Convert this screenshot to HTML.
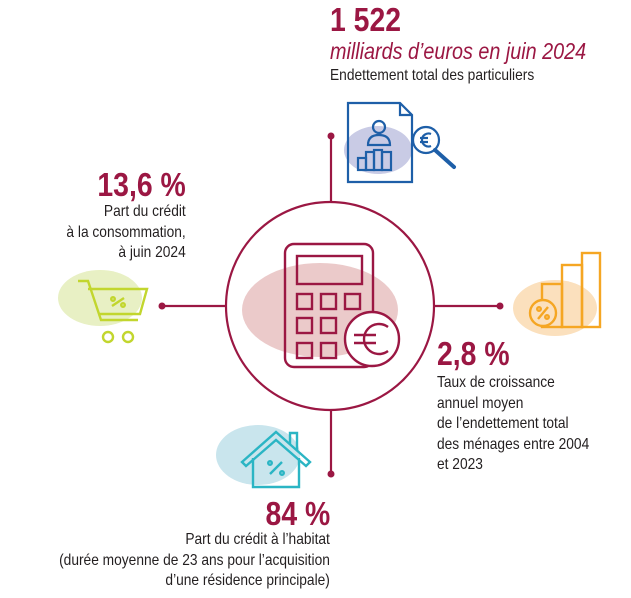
<!DOCTYPE html>
<html><head><meta charset="utf-8"><style>
body{margin:0;width:631px;height:598px;background:#fff;overflow:hidden;position:relative;font-family:"Liberation Sans",sans-serif}
.t{position:absolute;white-space:nowrap;color:#231f20;font-size:16px;line-height:20.5px;transform:scaleX(0.86);transform-origin:0 0}
.r{transform-origin:100% 0}
.big{font-weight:bold;color:#9b1743;font-size:33px;line-height:34px}
</style></head><body>
<svg width="631" height="598" style="position:absolute;left:0;top:0">
<g stroke="#9b1743" stroke-width="2.2" fill="none">
<circle cx="330" cy="306" r="104"/>
<line x1="331" y1="136" x2="331" y2="202"/>
<line x1="162" y1="306" x2="226" y2="306"/>
<line x1="434" y1="306" x2="500" y2="306"/>
<line x1="331" y1="410" x2="331" y2="474"/>
</g>
<g fill="#9b1743"><circle cx="331" cy="136" r="3.5"/><circle cx="162" cy="306" r="3.5"/><circle cx="500" cy="306" r="3.5"/><circle cx="331" cy="474" r="3.5"/></g>
<ellipse cx="320" cy="310" rx="78" ry="47" fill="#ebcaca"/>
<g stroke="#9b1743" stroke-width="2.4" fill="none">
<rect x="285" y="244" width="88" height="123" rx="9"/>
<rect x="297" y="256" width="65" height="28"/>
<rect x="297" y="294" width="15" height="15"/><rect x="321" y="294" width="15" height="15"/><rect x="345" y="294" width="15" height="15"/>
<rect x="297" y="318" width="15" height="15"/><rect x="321" y="318" width="15" height="15"/>
<rect x="297" y="343" width="15" height="15"/><rect x="321" y="343" width="15" height="15"/>
</g>
<circle cx="372" cy="339" r="27" fill="#fff" stroke="#9b1743" stroke-width="2.4"/>
<g stroke="#9b1743" stroke-width="2.4" fill="none"><path d="M388 327 A15 15 0 1 0 388 351"/><line x1="354" y1="335" x2="376" y2="335"/><line x1="354" y1="343" x2="376" y2="343"/></g>
<ellipse cx="378" cy="150" rx="34" ry="24" fill="#c9cbe5"/>
<g stroke="#1e5fa8" stroke-width="2.2" fill="none">
<path d="M348 103 H400 L412 115 V182 H348 Z M400 103 V115 H412"/>
<circle cx="379" cy="127" r="6"/><path d="M368 145 Q368 135 379 135 Q390 135 390 145 Z"/>
<rect x="358" y="158" width="8" height="12"/><rect x="366" y="152" width="8" height="18"/><rect x="374" y="150" width="8" height="20"/><rect x="382" y="152" width="9" height="18"/>
<circle cx="426" cy="140" r="13" fill="#fff"/><line x1="435" y1="150" x2="454" y2="167" stroke-width="4" stroke-linecap="round"/>
<path d="M431 134 A6.5 6.5 0 1 0 431 146"/><line x1="420" y1="138" x2="428" y2="138"/><line x1="420" y1="142" x2="428" y2="142"/>
</g>
<ellipse cx="100" cy="298" rx="42" ry="28" fill="#e8f0c4"/>
<g stroke="#c2d62e" stroke-width="2.4" fill="none">
<path d="M78 281 H88 L101 320 H138"/><path d="M88 289 H147 L140 314 H98"/>
<circle cx="108" cy="337" r="5"/><circle cx="128" cy="337" r="5"/>
<line x1="112" y1="306" x2="124" y2="298"/><circle cx="113" cy="299" r="1.8"/><circle cx="123" cy="305" r="1.8"/>
</g>
<ellipse cx="555" cy="308" rx="42" ry="28" fill="#fbe0bd"/>
<g stroke="#f5a623" stroke-width="2.4" fill="none">
<rect x="542" y="284" width="20" height="43"/><rect x="562" y="265" width="20" height="62"/><rect x="582" y="253" width="18" height="74"/>
<circle cx="543" cy="313" r="13" fill="#fbe0bd"/>
<line x1="538" y1="319" x2="548" y2="307"/><circle cx="539" cy="309" r="1.8"/><circle cx="547" cy="317" r="1.8"/>
</g>
<ellipse cx="258" cy="455" rx="42" ry="30" fill="#c9e5ed"/>
<g stroke="#2bb5c4" stroke-width="2.4" fill="none">
<path d="M242 462 L276 432 L310 462 L306 466 L276 440 L246 466 Z"/>
<path d="M290 444 V433 H297 V450"/>
<path d="M253 458 V487 H299 V458"/>
<line x1="270" y1="474" x2="282" y2="462"/><circle cx="270" cy="463" r="1.8"/><circle cx="282" cy="473" r="1.8"/>
</g>
</svg>
<div class="t big" style="left:330px;top:3px">1 522</div>
<div class="t" style="left:330px;top:38px;font-style:italic;color:#9b1743;font-size:23px;line-height:26px">milliards d’euros en juin 2024</div>
<div class="t" style="left:330px;top:66px">Endettement total des particuliers</div>
<div class="t r big" style="right:445px;top:168px">13,6 %</div>
<div class="t r" style="right:445px;top:202px;text-align:right">Part du crédit<br>à la consommation,<br>à juin 2024</div>
<div class="t big" style="left:437px;top:337px">2,8 %</div>
<div class="t" style="left:437px;top:373px">Taux de croissance<br>annuel moyen<br>de l’endettement total<br>des ménages entre 2004<br>et 2023</div>
<div class="t r big" style="right:301px;top:497px">84 %</div>
<div class="t r" style="right:301px;top:530px;text-align:right">Part du crédit à l’habitat<br>(durée moyenne de 23 ans pour l’acquisition<br>d’une résidence principale)</div>
</body></html>
